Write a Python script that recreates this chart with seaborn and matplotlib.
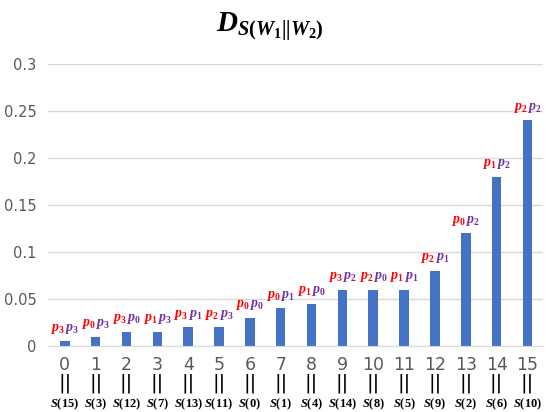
import matplotlib
matplotlib.use("Agg")
import matplotlib.pyplot as plt
import matplotlib.transforms as mtransforms
import seaborn as sns
import pandas as pd

# Data
positions = [str(i) for i in range(16)]
values = [0.005, 0.01, 0.015, 0.015, 0.02, 0.02, 0.03, 0.04,
          0.045, 0.06, 0.06, 0.06, 0.08, 0.12, 0.18, 0.24]
first_p = [3, 0, 3, 1, 3, 2, 0, 0, 1, 3, 2, 1, 2, 0, 1, 2]
second_p = [3, 3, 0, 3, 1, 3, 0, 1, 0, 2, 0, 1, 1, 2, 2, 2]
s_index = [15, 3, 12, 7, 13, 11, 0, 1, 4, 14, 8, 5, 9, 2, 6, 10]
yticks = [0, 0.05, 0.1, 0.15, 0.2, 0.25, 0.3]

sns.set_style("white")
plt.rcParams["font.family"] = ["DejaVu Sans"]
plt.rcParams["mathtext.fontset"] = "custom"
plt.rcParams["mathtext.it"] = "Liberation Serif:italic:bold"
plt.rcParams["mathtext.rm"] = "Liberation Serif:bold"
plt.rcParams["mathtext.bf"] = "Liberation Serif:bold"

df = pd.DataFrame({"pos": positions, "val": values})

fig = plt.figure(figsize=(5.5, 4.12), dpi=100)
ax = fig.add_axes([0.087, 0.160, 0.900, 0.685])

sns.barplot(data=df, x="pos", y="val", color="#4472C4", saturation=1,
            width=0.31, linewidth=0, ax=ax)

ax.set_ylim(0, 0.3)
ax.set_xlim(-0.55, 15.5)
ax.set_yticks(yticks)
ax.set_yticklabels(["0", "0.05", "0.1", "0.15", "0.2", "0.25", "0.3"])
ax.yaxis.grid(True, color="#D9D9D9", linewidth=1)
ax.set_axisbelow(True)
for side in ["top", "right", "left"]:
    ax.spines[side].set_visible(False)
ax.spines["bottom"].set_color("#D9D9D9")
ax.tick_params(axis="y", length=0, labelsize=10.5, labelcolor="#595959", pad=8)
ax.tick_params(axis="x", length=0, labelsize=12.5, labelcolor="#595959", pad=7)
ax.set_xlabel("")
ax.set_ylabel("")

# extra tick lines below numbers
trans = mtransforms.blended_transform_factory(ax.transData, ax.transAxes)
for x, s in zip(ax.get_xticks(), s_index):
    ax.text(x, -0.13, "||", transform=trans, ha="center", va="center",
            fontsize=14, color="black")
    ax.text(x, -0.207, r"$S(%d)$" % s, transform=trans, ha="center",
            va="center", fontsize=9, color="black")

# two-colour labels above bars
for x, v, a, b in zip(ax.get_xticks(), values, first_p, second_p):
    ax.text(x + 0.02, v + 0.006, r"$p_%d$" % a, ha="right", va="bottom",
            fontsize=10, color="#FF0000")
    ax.text(x + 0.02, v + 0.006, r"$p_%d$" % b, ha="left", va="bottom",
            fontsize=10, color="#7030A0")

fig.text(0.49, 0.935, r"$D_{S(W_1||W_2)}$", ha="center", va="center",
         fontsize=21, color="black")

fig.savefig("out.png", dpi=100)
